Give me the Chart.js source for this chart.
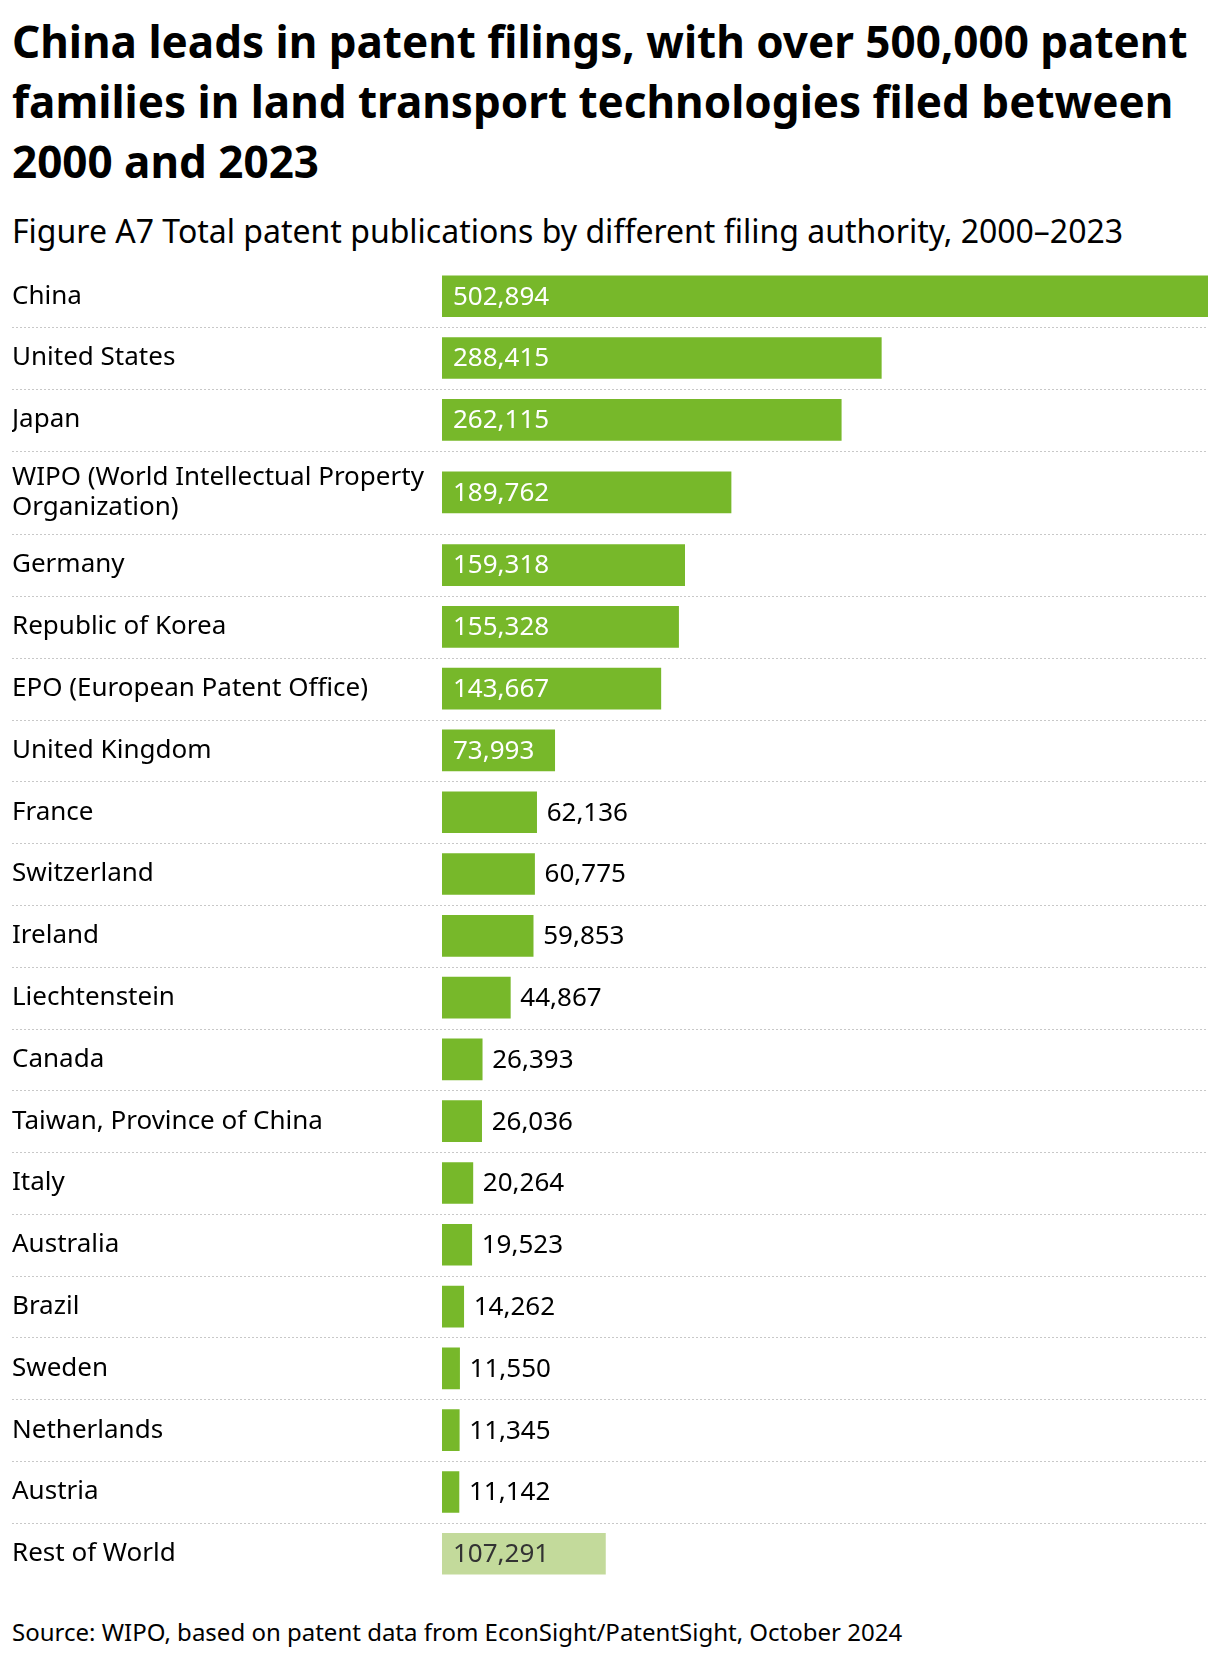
<!DOCTYPE html>
<html>
<head>
<meta charset="utf-8">
<script src="https://cdn.jsdelivr.net/npm/chart.js@4"></script>
<style>
  html, body { margin: 0; padding: 0; background: #fff; }
  body { width: 1220px; height: 1662px; position: relative; font-family: "Noto Sans", sans-serif; color: #000; }
  #title { position: absolute; left: 12px; top: 11px; width: 1200px; font-size: 44px; font-weight: bold; line-height: 60px; margin: 0; }
  #subtitle { position: absolute; left: 12px; top: 211px; font-size: 32px; line-height: 40px; margin: 0; white-space: nowrap; }
  #source { position: absolute; left: 12px; top: 1617px; font-size: 24px; line-height: 30px; margin: 0; white-space: nowrap; }
  #wrap { position: absolute; left: 0; top: 250px; width: 1220px; height: 1350px; }
</style>
</head>
<body>
<h1 id="title">China leads in patent filings, with over 500,000 patent families in land transport technologies filed between 2000 and 2023</h1>
<p id="subtitle">Figure A7 Total patent publications by different filing authority, 2000–2023</p>
<div id="wrap"><canvas id="c"></canvas></div>
<p id="source">Source: WIPO, based on patent data from EconSight/PatentSight, October 2024</p>
<script>
const categories = [
  "China",
  "United States",
  "Japan",
  ["WIPO (World Intellectual Property", "Organization)"],
  "Germany",
  "Republic of Korea",
  "EPO (European Patent Office)",
  "United Kingdom",
  "France",
  "Switzerland",
  "Ireland",
  "Liechtenstein",
  "Canada",
  "Taiwan, Province of China",
  "Italy",
  "Australia",
  "Brazil",
  "Sweden",
  "Netherlands",
  "Austria",
  "Rest of World"
];
const publications = [
  502894, 288415, 262115, 189762, 159318, 155328, 143667, 73993,
  62136, 60775, 59853, 44867, 26393, 26036, 20264, 19523, 14262,
  11550, 11345, 11142, 107291
];
const restOfWorldLabel = "Rest of World";

const GREEN = "#77b82a";
const LIGHT = "#c3da9b";
const FONT = '"Noto Sans", sans-serif';

// Row layout: rows whose label wraps onto two lines are a little taller.
const EXTRA_PER_LINE = 0.35;
const rowSize = categories.map(c => Array.isArray(c) ? 1 + EXTRA_PER_LINE * (c.length - 1) : 1);
const rowEdges = [0];
rowSize.forEach(s => rowEdges.push(rowEdges[rowEdges.length - 1] + s));
const rowCenter = rowSize.map((s, i) => rowEdges[i] + s / 2);
const totalRows = rowEdges[rowEdges.length - 1];

const separators = {
  id: 'separators',
  beforeDatasetsDraw(chart) {
    const y = chart.scales.y;
    const ctx = chart.ctx;
    ctx.save();
    ctx.strokeStyle = '#c8c8c8';
    ctx.lineWidth = 1;
    ctx.setLineDash([2, 2]);
    for (let i = 1; i < rowEdges.length - 1; i++) {
      const py = Math.round(y.getPixelForValue(rowEdges[i])) + 0.5;
      ctx.beginPath();
      ctx.moveTo(12, py);
      ctx.lineTo(chart.chartArea.right, py);
      ctx.stroke();
    }
    ctx.restore();
  }
};

const valueLabels = {
  id: 'valueLabels',
  afterDatasetsDraw(chart) {
    const ctx = chart.ctx;
    const meta = chart.getDatasetMeta(0);
    ctx.save();
    ctx.font = '26px ' + FONT;
    ctx.textBaseline = 'middle';
    ctx.textAlign = 'left';
    const pad = 11;
    meta.data.forEach((bar, i) => {
      const txt = publications[i].toLocaleString('en-US');
      const tw = ctx.measureText(txt).width;
      const w = bar.x - bar.base;
      const isRest = categories[i] === restOfWorldLabel;
      if (w > tw + 2 * pad) {
        ctx.fillStyle = isRest ? '#333333' : '#ffffff';
        ctx.fillText(txt, bar.base + pad, bar.y + 1);
      } else {
        ctx.fillStyle = '#000000';
        ctx.fillText(txt, bar.x + 10, bar.y + 1);
      }
    });
    ctx.restore();
  }
};

new Chart(document.getElementById('c'), {
  type: 'bar',
  data: {
    datasets: [{
      data: publications.map((v, i) => ({ x: v, y: rowCenter[i] })),
      backgroundColor: categories.map(c => c === restOfWorldLabel ? LIGHT : GREEN),
      borderWidth: 0,
      barThickness: 41
    }]
  },
  options: {
    indexAxis: 'y',
    responsive: true,
    maintainAspectRatio: false,
    animation: false,
    layout: { padding: { left: 12, right: 12, top: 11, bottom: 10 } },
    plugins: { legend: { display: false }, tooltip: { enabled: false }, title: { display: false } },
    scales: {
      x: {
        type: 'linear',
        display: false,
        min: 0,
        max: Math.max(...publications)
      },
      y: {
        type: 'linear',
        reverse: true,
        min: 0,
        max: totalRows,
        offset: false,
        border: { display: false },
        grid: { display: false, drawTicks: false },
        afterBuildTicks(scale) { scale.ticks = rowCenter.map(v => ({ value: v })); },
        ticks: {
          crossAlign: 'far',
          padding: 0,
          color: '#000',
          font: { family: FONT, size: 26, lineHeight: 1.18 },
          autoSkip: false,
          callback: (value, index) => categories[index]
        },
        afterFit(scale) { scale.width = 430; }
      }
    }
  },
  plugins: [separators, valueLabels]
});
</script>
</body>
</html>
